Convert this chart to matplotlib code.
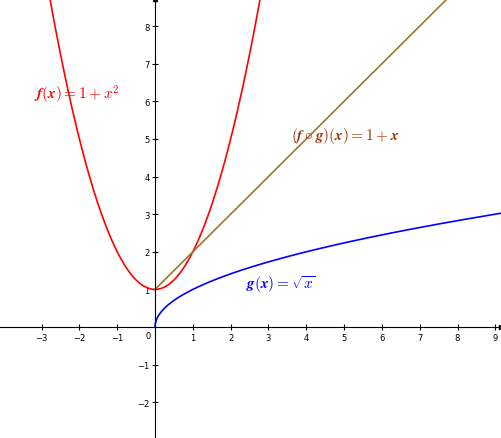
import numpy as np
import matplotlib
matplotlib.use("Agg")
import matplotlib.pyplot as plt

plt.rcParams["mathtext.fontset"] = "cm"

xticks = [-3, -2, -1, 1, 2, 3, 4, 5, 6, 7, 8, 9]
yticks = [-2, -1, 1, 2, 3, 4, 5, 6, 7, 8]
xlim = (-4.1, 9.15)
ylim = (-2.95, 8.72)

fig = plt.figure(figsize=(5.01, 4.39), dpi=100)
ax = fig.add_axes([0, 0, 1, 1])
ax.set_xlim(*xlim)
ax.set_ylim(*ylim)
for s in ["top", "right"]:
    ax.spines[s].set_visible(False)
ax.spines["left"].set_position(("data", 0))
ax.spines["bottom"].set_position(("data", 0))
for s in ["left", "bottom"]:
    ax.spines[s].set_linewidth(0.8)
ax.set_xticks(xticks)
ax.set_yticks(yticks)
ax.tick_params(labelsize=6, direction="inout", length=4, width=0.8, pad=2)
ax.plot(1, 0, ">k", transform=ax.get_yaxis_transform(), clip_on=False, ms=3)
ax.plot(0, 1, "^k", transform=ax.get_xaxis_transform(), clip_on=False, ms=3)
ax.text(-0.12, -0.1, "0", fontsize=6, ha="right", va="top")

x = np.linspace(-4.1, 9.15, 800)
ax.plot(x, 1 + x**2, color="#FF0000", lw=1.2)
xs = np.linspace(0, 9.15, 800)
ax.plot(xs, 1 + xs, color="#A0762A", lw=1.2)
ax.plot(xs, np.sqrt(xs), color="#0000FF", lw=1.2)

ax.text(-3.2, 6.2, r"$\boldsymbol{f(x) = 1 + x^2}$", color="#FF0000", fontsize=11, va="center")
ax.text(3.6, 5.1, r"$\boldsymbol{(f \circ g)(x) = 1 + x}$", color="#993300", fontsize=11, va="center")
ax.text(2.4, 1.15, r"$\boldsymbol{g(x) = \sqrt{x}}$", color="#0000FF", fontsize=11, va="center")

fig.savefig("out.png", dpi=100)
